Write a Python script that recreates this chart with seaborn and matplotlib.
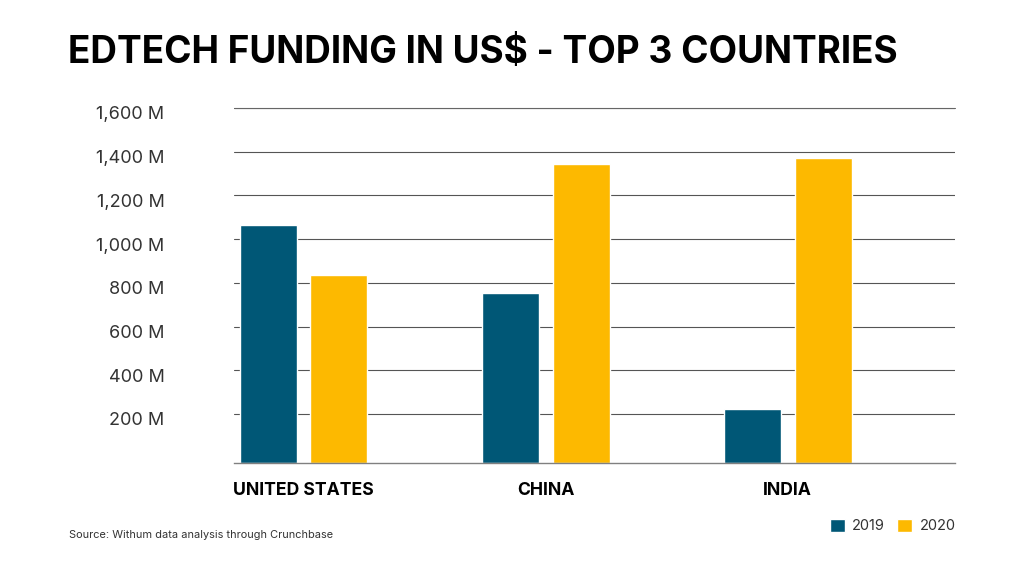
import matplotlib
matplotlib.use("Agg")
import matplotlib.pyplot as plt
from matplotlib.patches import Patch
from matplotlib.transforms import ScaledTranslation
import pandas as pd
import seaborn as sns

countries = ["UNITED STATES", "CHINA", "INDIA"]
years = ["2019", "2020"]
values_2019 = [1065, 753, 222]
values_2020 = [836, 1343, 1371]
tick_values = [200, 400, 600, 800, 1000, 1200, 1400, 1600]
tick_labels = ["200 M", "400 M", "600 M", "800 M", "1,000 M", "1,200 M", "1,400 M", "1,600 M"]
palette = {"2019": "#005776", "2020": "#FDB900"}

df = pd.DataFrame({
    "country": countries * 2,
    "year": ["2019"] * 3 + ["2020"] * 3,
    "value": values_2019 + values_2020,
})

sns.set_theme(style="white")
plt.rcParams["font.family"] = ["Inter", "DejaVu Sans"]

fig = plt.figure(figsize=(10.24, 5.73), dpi=100)
ax = fig.add_axes([234 / 1024, 1 - 462.5 / 573, (955 - 234) / 1024, 354.5 / 573])
ax.set_axisbelow(True)
sns.barplot(data=df, x="country", y="value", hue="year", hue_order=years, palette=palette,
            order=countries, ax=ax, width=0.583, gap=0.192, saturation=1, legend=False)

# The reference's baseline sits a little below the zero implied by its gridlines,
# and its bars run down to that baseline.
y_floor = -22
ax.set_xlim(-0.288, 2.691)
ax.set_ylim(y_floor, 1600)
for bar in ax.patches:
    top = bar.get_y() + bar.get_height()
    bar.set_y(y_floor)
    bar.set_height(top - y_floor)
    bar.set_clip_on(False)
ax.set_yticks(tick_values)
ax.set_yticklabels(tick_labels, fontsize=13, color="#333333")
ax.set_xticks(range(3))
ax.set_xticklabels(countries, fontsize=12.7, fontweight="bold", color="black")
ax.set_xlabel("")
ax.set_ylabel("")
ax.grid(axis="y", color="#555555", linewidth=0.8)
ax.tick_params(axis="y", length=0, pad=50)
ax.tick_params(axis="x", length=0, pad=14)
down = ScaledTranslation(0, -3.6 / 72, fig.dpi_scale_trans)
for lab in ax.get_yticklabels():
    lab.set_transform(lab.get_transform() + down)
for s in ["top", "left", "right"]:
    ax.spines[s].set_visible(False)
ax.spines["bottom"].set_color("#808080")
ax.spines["bottom"].set_linewidth(1)
ax.axhline(1600, color="#666666", linewidth=0.8, clip_on=False)

fig.text(68 / 1024, 1 - 52.5 / 573, "EDTECH FUNDING IN US$ - TOP 3 COUNTRIES", fontsize=26.6,
         fontweight="bold", color="black", va="center", ha="left")
fig.text(69 / 1024, 1 - 535 / 573, "Source: Withum data analysis through Crunchbase", fontsize=7.9,
         color="#333333", va="center", ha="left")
handles = [Patch(facecolor=palette[y], label=y) for y in years]
fig.legend(handles=handles, loc="center right", bbox_to_anchor=(955.5 / 1024, 1 - 526 / 573), ncol=2,
           frameon=False, fontsize=10.5, handlelength=1.05, handleheight=1.05, columnspacing=0.8,
           handletextpad=0.5, borderpad=0, borderaxespad=0, labelcolor="#333333")
fig.savefig("out.png", dpi=100)
